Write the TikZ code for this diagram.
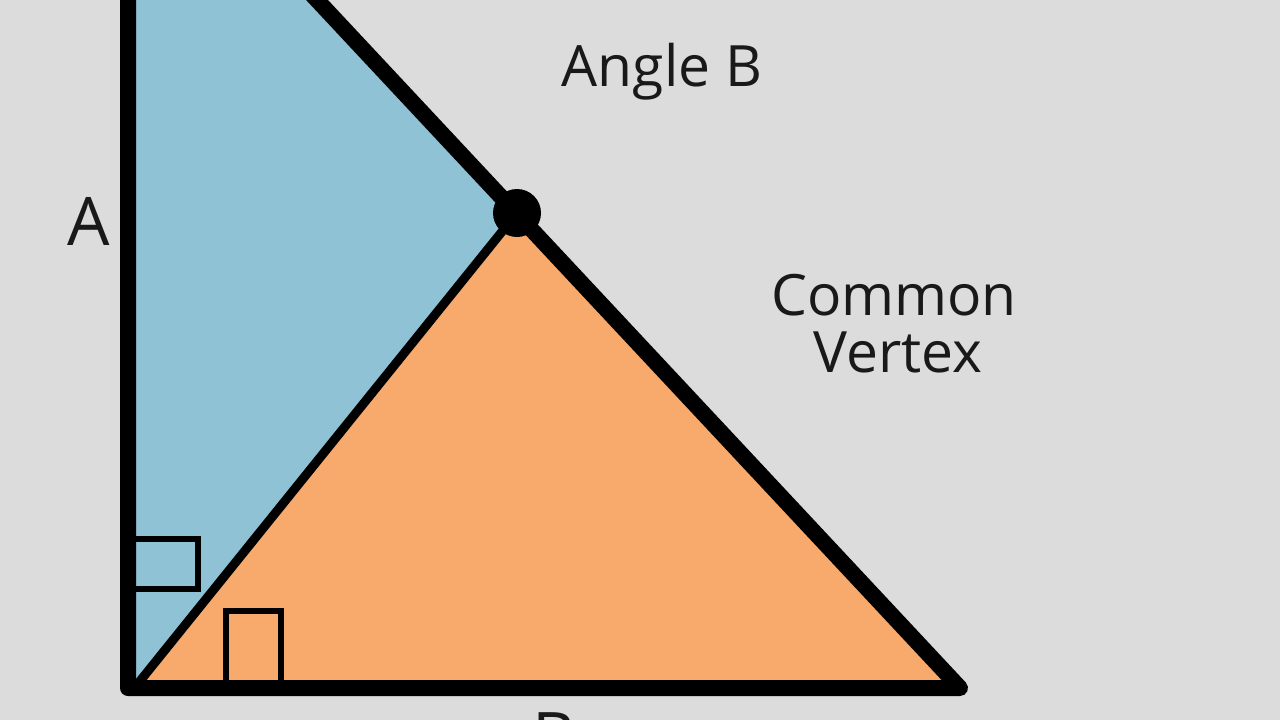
\documentclass[tikz,border=0pt]{standalone}
\usepackage{fontspec}
\setmainfont{Open Sans}
\definecolor{bg}{RGB}{220,220,220}
\definecolor{blueF}{RGB}{144,194,213}
\definecolor{orangeF}{RGB}{248,169,108}
\begin{document}
\begin{tikzpicture}[x=1pt,y=-1pt,
  edge/.style={line width=16pt,line join=round,line cap=round},
  thinedge/.style={line width=9pt,line cap=round},
  rightmark/.style={line width=6pt},
  lbl/.style={inner sep=0pt,anchor=base,text=black!90}]
\useasboundingbox (0,0) rectangle (1280,720);
\clip (0,0) rectangle (1280,720);
\fill[bg] (0,0) rectangle (1280,720);
\coordinate (TL) at (128,-30);
\coordinate (TR) at (289,-30);
\coordinate (BL) at (128,688);
\coordinate (BR) at (960,688);
\coordinate (V) at (517,213);
\coordinate (D) at (136,686);
% fills
\fill[blueF] (TL) -- (TR) -- (V) -- (D) -- (BL) -- cycle;
\fill[orangeF] (D) -- (V) -- (BR) -- cycle;
% right-angle marks
\draw[rightmark] (131,539) rectangle (198,589);
\draw[rightmark] (226,689) |- (281,611) -- (281,689);
% edges
\draw[thinedge] (V) -- (D);
\draw[edge] (TL) -- (BL) -- (BR) -- (TR);
\fill (V) circle (24);
% labels
\node[lbl,font=\fontsize{57}{60}\selectfont] (angB) at (662,86) {Angle B};
\node[lbl,font=\fontsize{67}{70}\selectfont] (labA) at (89,245) {A};
\node[lbl,font=\fontsize{67}{70}\selectfont] (labB) at (554,760) {B};
\node[lbl,font=\fontsize{57}{60}\selectfont] (cv1) at (894,315) {Common};
\node[lbl,font=\fontsize{57}{60}\selectfont] (cv2) at (898,372) {Vertex};
\end{tikzpicture}
\end{document}
